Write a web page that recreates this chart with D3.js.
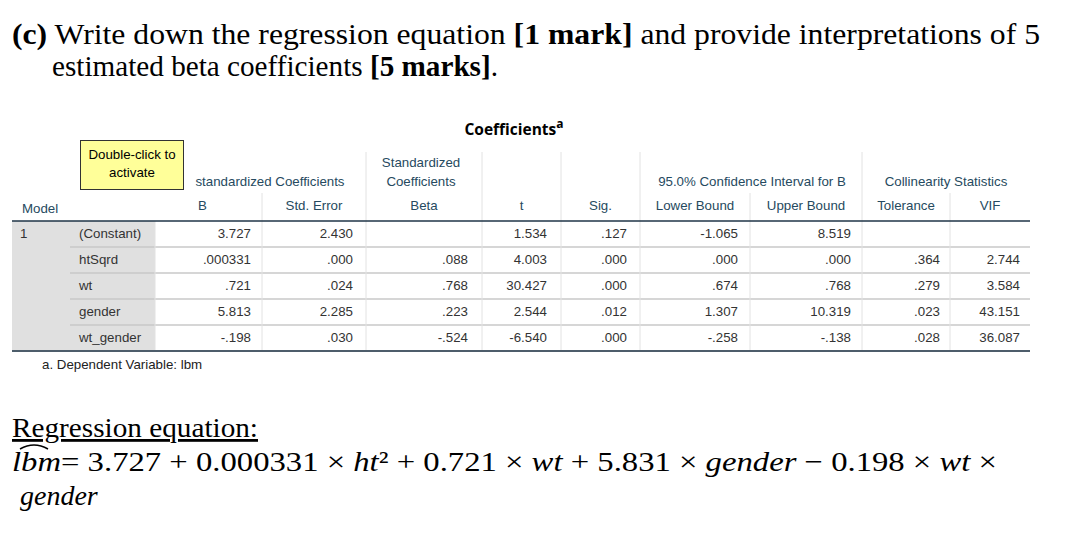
<!DOCTYPE html>
<html><head><meta charset="utf-8">
<script src="https://cdn.jsdelivr.net/npm/d3@7"></script>
<style>body{margin:0;background:#fff}</style></head>
<body><svg id="c" width="1076" height="550"></svg>
<script>
const predictors = ["(Constant)","htSqrd","wt","gender","wt_gender"];
const colB    = ["3.727",".000331",".721","5.813","-.198"];
const colSE   = ["2.430",".000",".024","2.285",".030"];
const colBeta = ["",".088",".768",".223","-.524"];
const colT    = ["1.534","4.003","30.427","2.544","-6.540"];
const colSig  = [".127",".000",".000",".012",".000"];
const colLow  = ["-1.065",".000",".674","1.307","-.258"];
const colUp   = ["8.519",".000",".768","10.319","-.138"];
const colTol  = ["",".364",".279",".023",".028"];
const colVIF  = ["","2.744","3.584","43.151","36.087"];
const subHeaders = ["B","Std. Error","Beta","t","Sig.","Lower Bound","Upper Bound","Tolerance","VIF"];

const svg = d3.select("#c");
const seps = [155,262,366,482,561,640,750,862,950,1030];
const L = 12, R = 1030, hdrY = 221, rowH = 26;
const y = d3.scaleBand().domain(d3.range(5)).range([hdrY, hdrY+5*rowH]);
const bodyFont = "'Liberation Sans', Arial, sans-serif";

const q = svg.append("text").attr("x",12).attr("y",44).attr("font-family","'Liberation Serif',serif").attr("font-size",29).attr("fill","#000")
  .attr("textLength",1028).attr("lengthAdjust","spacingAndGlyphs");
q.append("tspan").attr("font-weight","bold").text("(c)");
q.append("tspan").text(" Write down the regression equation ");
q.append("tspan").attr("font-weight","bold").text("[1 mark]");
q.append("tspan").text(" and provide interpretations of 5");
const q2 = svg.append("text").attr("x",52).attr("y",76).attr("font-family","'Liberation Serif',serif").attr("font-size",29)
  .attr("textLength",446).attr("lengthAdjust","spacingAndGlyphs");
q2.append("tspan").text("estimated beta coefficients ");
q2.append("tspan").attr("font-weight","bold").text("[5 marks]");
q2.append("tspan").text(".");

const t = svg.append("text").attr("x",514).attr("y",135).attr("text-anchor","middle").attr("font-family","'Open Sans',sans-serif")
  .attr("font-weight","bold").attr("font-size",15.5).attr("fill","#000").text("Coefficients");
t.append("tspan").attr("dy",-7).attr("font-size",12).text("a");

svg.append("rect").attr("x",L).attr("y",hdrY).attr("width",seps[0]-L).attr("height",5*rowH).attr("fill","#e0e0e0");

for(let i=1;i<5;i++) svg.append("line").attr("x1",70).attr("x2",R).attr("y1",y(i)).attr("y2",y(i)).attr("stroke","#c8c8c8").attr("stroke-width",1.5);
const vTop = {262:193,750:193,950:193};
seps.slice(0,9).forEach(x=>{
  svg.append("line").attr("x1",x).attr("x2",x).attr("y1",x===155?hdrY:(vTop[x]||152)).attr("y2",hdrY+5*rowH)
    .attr("stroke","#e2e2e2").attr("stroke-width",1);
});
svg.append("line").attr("x1",L).attr("x2",R).attr("y1",hdrY).attr("y2",hdrY).attr("stroke","#1f3447").attr("stroke-width",1.5);
svg.append("line").attr("x1",L).attr("x2",R).attr("y1",hdrY+5*rowH).attr("y2",hdrY+5*rowH).attr("stroke","#4d5d6b").attr("stroke-width",2);

const hc = "#264a60";
function txt(x,yy,s,anchor,color){return svg.append("text").attr("x",x).attr("y",yy).attr("text-anchor",anchor||"start")
  .attr("font-family",bodyFont).attr("font-size",13.3).attr("fill",color||"#333").text(s);}
txt(22,213,"Model","start",hc);
txt(270,186,"standardized Coefficients","middle",hc);
txt(421,167,"Standardized","middle",hc);
txt(421,186,"Coefficients","middle",hc);
txt(752,186,"95.0% Confidence Interval for B","middle",hc);
txt(946,186,"Collinearity Statistics","middle",hc);
subHeaders.forEach((s,i)=>txt((seps[i]+seps[i+1])/2 + (i===0?-6:0),210,s,"middle",hc));

txt(20,y(0)+17,"1");
predictors.forEach((p,i)=>txt(79,y(i)+17,p));
const cols=[colB,colSE,colBeta,colT,colSig,colLow,colUp,colTol,colVIF];
const rights=[251,353,468,547,627,738,851,940,1020];
cols.forEach((c,j)=>c.forEach((v,i)=>{ if(v) txt(rights[j],y(i)+17,v,"end"); }));
txt(42,369,"a. Dependent Variable: lbm","start","#222");

svg.append("rect").attr("x",80.5).attr("y",140.5).attr("width",103).attr("height",49).attr("fill","#ffff99").attr("stroke","#333");
txt(132,159,"Double-click to","middle","#000");
txt(132,177,"activate","middle","#000");

const ser="'Liberation Serif',serif";
svg.append("text").attr("x",12).attr("y",437).attr("font-family",ser).attr("font-size",28).attr("fill","#000")
  .attr("text-decoration","underline").attr("textLength",246).attr("lengthAdjust","spacingAndGlyphs").text("Regression equation:");
const eq = svg.append("text").attr("x",12).attr("y",471).attr("font-family",ser).attr("font-size",28).attr("fill","#000")
  .attr("textLength",985).attr("lengthAdjust","spacingAndGlyphs");
const parts=[["lbm",1],["= 3.727 + 0.000331 × ",0],["ht",1],["²",0],[" + 0.721 × ",0],["wt",1],[" + 5.831 × ",0],["gender",1],[" − 0.198 × ",0],["wt",1],[" ×",0]];
parts.forEach(([s,it])=>eq.append("tspan").attr("font-style",it?"italic":"normal").text(s));
svg.append("path").attr("d","M20,449 Q34,441 48,449").attr("fill","none").attr("stroke","#000").attr("stroke-width",1.5);
svg.append("text").attr("x",20).attr("y",505).attr("font-family",ser).attr("font-style","italic").attr("font-size",28).text("gender");
</script></body></html>
